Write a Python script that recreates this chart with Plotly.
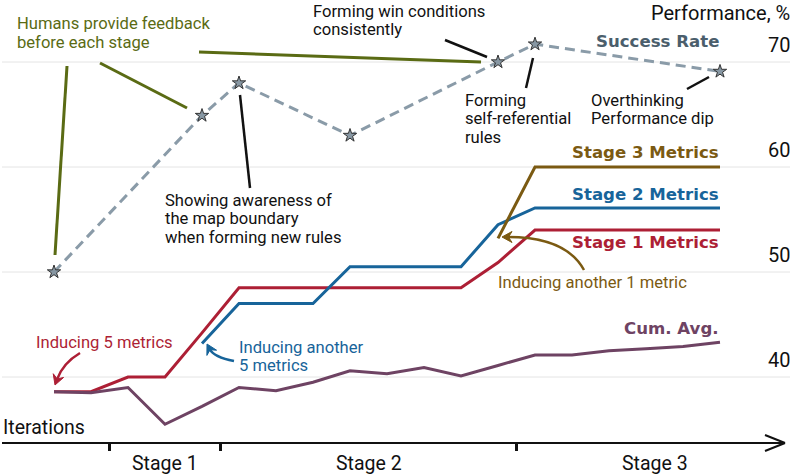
import math
import plotly.graph_objects as go

# ---------------- data ----------------
iterations = list(range(19))
success_x = [0, 4, 5, 8, 12, 13, 18]
success_rate = [50.0, 64.9, 68.0, 63.0, 70.0, 71.7, 69.1]
cum_avg = [38.6, 38.5, 39.0, 35.5, 37.2, 39.0, 38.7, 39.5, 40.6, 40.3, 40.9,
           40.1, 41.1, 42.1, 42.1, 42.5, 42.7, 42.9, 43.3]
stage1_metrics = [38.6, 38.6, 40.0, 40.0, 44.2, 48.5, 48.5, 48.5, 48.5, 48.5,
                  48.5, 48.5, 50.9, 54.0, 54.0, 54.0, 54.0, 54.0, 54.0]
stage2_x = list(range(4, 19))
stage2_metrics = [43.2, 47.0, 47.0, 47.0, 50.5, 50.5, 50.5, 50.5, 54.5, 56.1,
                  56.1, 56.1, 56.1, 56.1, 56.1]
stage3_x = list(range(12, 19))
stage3_metrics = [53.2, 60.0, 60.0, 60.0, 60.0, 60.0, 60.0]
y_ticks = [40, 50, 60, 70]
stage_bounds = [1.5, 4.5, 12.5]
stage_labels = ["Stage 1", "Stage 2", "Stage 3"]

# ---------------- layout helpers ----------------
W, H = 794, 475
PXX, PXY = 37.0, 10.5
X0 = -54 / PXX
X1 = X0 + W / PXX
Y1 = 70 + 62 / PXY
Y0 = Y1 - H / PXY

def xpx(v):
    return (v - X0) * PXX

def ypx(v):
    return (Y1 - v) * PXY

def P(px, py):
    return px / W, 1 - py / H

RED = "#ad1f35"
BLUE = "#17649a"
BROWN = "#7b5a12"
PURPLE = "#6e4363"
SLATE = "#8a9ba8"
SLATE_TXT = "#4b5e6c"
OLIVE = "#5a6b14"
BLACK = "#111111"
FONT = "Roboto"
BOLD = "DejaVu Sans"

fig = go.Figure()

shapes = []
annotations = []

def ann(t, px, py, color, size, family=FONT, xanchor="left", weight="normal"):
    x, y = P(px, py)
    annotations.append(dict(xref="paper", yref="paper", x=x, y=y, text=t,
                            showarrow=False, xanchor=xanchor, yanchor="middle",
                            borderpad=0, borderwidth=0,
                            font=dict(family=family, size=size, color=color, weight=weight)))

# gridlines
for t in y_ticks:
    shapes.append(dict(type="line", xref="paper", yref="y", x0=2 / W, x1=790 / W,
                       y0=t, y1=t, line=dict(color="#e4e4e4", width=1), layer="below"))
    ann(str(t), 790, ypx(t) - 17, BLACK, 20, xanchor="right")

# series
fig.add_trace(go.Scatter(x=iterations, y=stage1_metrics, mode="lines",
                         line=dict(color=RED, width=3), hoverinfo="skip"))
fig.add_trace(go.Scatter(x=stage2_x, y=stage2_metrics, mode="lines",
                         line=dict(color=BLUE, width=3), hoverinfo="skip"))
fig.add_trace(go.Scatter(x=stage3_x, y=stage3_metrics, mode="lines",
                         line=dict(color=BROWN, width=3), hoverinfo="skip"))
fig.add_trace(go.Scatter(x=iterations, y=cum_avg, mode="lines",
                         line=dict(color=PURPLE, width=3), hoverinfo="skip"))
fig.add_trace(go.Scatter(x=success_x, y=success_rate, mode="lines+markers",
                         line=dict(color=SLATE, width=3, dash="10px,6px"),
                         marker=dict(symbol="star", size=10, color="#8797a3",
                                     line=dict(color="#333333", width=1)),
                         hoverinfo="skip"))

# series labels
for t, py, col in [("Success Rate", 41, SLATE_TXT), ("Stage 3 Metrics", 153, BROWN),
                   ("Stage 2 Metrics", 194, BLUE), ("Stage 1 Metrics", 242, RED),
                   ("Cum. Avg.", 328, PURPLE)]:
    ann(t, 719, py, col, 16.6, BOLD, "right", "bold")

# multi-line text with custom spacing
def text(lines, px, py_first, color=BLACK, size=16.6, spacing=18.7):
    for i, ln in enumerate(lines):
        ann(ln, px, py_first + i * spacing, color, size)

text(["Humans provide feedback", "before each stage"], 17, 24, OLIVE)
text(["Forming win conditions", "consistently"], 313, 11)
text(["Showing awareness of", "the map boundary", "when forming new rules"], 165, 200)
text(["Forming", "self-referential", "rules"], 465, 100)
text(["Overthinking", "Performance dip"], 591, 100)
text(["Inducing 5 metrics"], 36, 342, RED)
text(["Inducing another", "5 metrics"], 239, 347, BLUE)
text(["Inducing another 1 metric"], 498, 282, BROWN)
ann("Performance, %", 790, 13, BLACK, 20, xanchor="right")
ann("Iterations", 3, 427, BLACK, 19.5)
bounds_ext = stage_bounds + [X1]
for i, s in enumerate(stage_labels):
    cx = xpx((bounds_ext[i] + bounds_ext[i + 1]) / 2)
    ann(s, cx, 463, BLACK, 19.5, xanchor="center")

# leader lines
def seg(p0, p1, color=BLACK, width=2.5):
    a = P(*p0)
    b = P(*p1)
    shapes.append(dict(type="line", xref="paper", yref="paper", x0=a[0], y0=a[1],
                       x1=b[0], y1=b[1], line=dict(color=color, width=width)))

seg((67, 66), (55, 255), OLIVE, 3)
seg((100, 63), (187, 108), OLIVE, 3)
seg((199, 52), (481, 62), OLIVE, 3)
seg((445, 40), (487, 57))
seg((240, 95), (250, 188))
seg((533, 58), (526, 88))
seg((687, 89), (709, 77))

# curved arrows
def curved_arrow(p0, c, p1, color, width=2.5, head=10):
    a = P(*p0); cc = P(*c)
    dx, dy = p1[0] - c[0], p1[1] - c[1]
    L = math.hypot(dx, dy)
    ux, uy = dx / L, dy / L
    endp = (p1[0] - ux * head * 0.6, p1[1] - uy * head * 0.6)
    e = P(*endp)
    shapes.append(dict(type="path", xref="paper", yref="paper",
                       path=f"M {a[0]},{a[1]} Q {cc[0]},{cc[1]} {e[0]},{e[1]}",
                       line=dict(color=color, width=width)))
    nx, ny = -uy, ux
    base = (p1[0] - ux * head, p1[1] - uy * head)
    notch = (p1[0] - ux * head * 0.65, p1[1] - uy * head * 0.65)
    w1 = (base[0] + nx * head * 0.55, base[1] + ny * head * 0.55)
    w2 = (base[0] - nx * head * 0.55, base[1] - ny * head * 0.55)
    pts = [P(*p1), P(*w1), P(*notch), P(*w2)]
    path = "M " + " L ".join(f"{p[0]},{p[1]}" for p in pts) + " Z"
    shapes.append(dict(type="path", xref="paper", yref="paper", path=path,
                       fillcolor=color, line=dict(color=color, width=1)))

curved_arrow((80, 353), (63, 363), (55, 385), RED)
curved_arrow((234, 361), (214, 357), (207, 344), BLUE)
curved_arrow((584, 270), (566, 237), (502, 237), BROWN)

# x axis with arrow
y_ax = 443
seg((2, y_ax), (784, y_ax), BLACK, 2)
seg((765, y_ax - 8), (785, y_ax), BLACK, 2)
seg((765, y_ax + 8), (785, y_ax), BLACK, 2)
for b in stage_bounds:
    bx = xpx(b)
    seg((bx, y_ax), (bx, y_ax + 8), BLACK, 3)

fig.update_layout(
    width=W, height=H,
    margin=dict(l=0, r=0, t=0, b=0),
    paper_bgcolor="white", plot_bgcolor="white",
    showlegend=False,
    xaxis=dict(range=[X0, X1], visible=False, fixedrange=True),
    yaxis=dict(range=[Y0, Y1], visible=False, fixedrange=True),
    shapes=shapes,
    annotations=annotations,
)

fig.write_html("out.html", config={"displayModeBar": False},
               post_script="document.body.style.margin='0';document.body.style.overflow='hidden';")
